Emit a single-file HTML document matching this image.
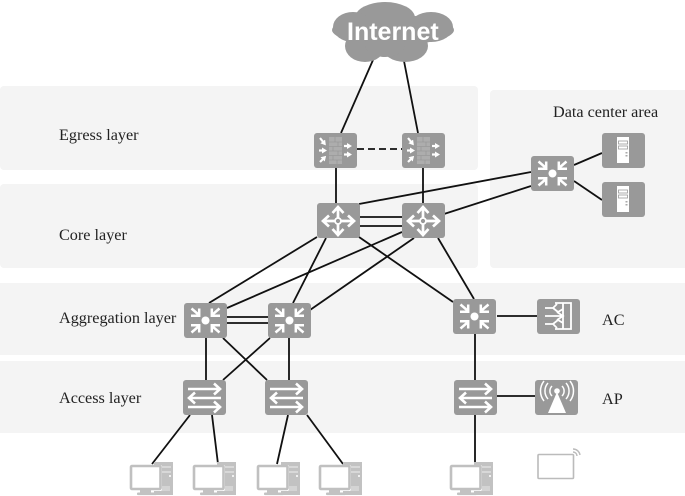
<!DOCTYPE html>
<html>
<head>
<meta charset="utf-8">
<style>
html,body{margin:0;padding:0;background:#fff}
svg{display:block}
text{font-family:"Liberation Serif",serif;font-size:16.2px;fill:#222}
</style>
</head>
<body>
<svg width="685" height="496" viewBox="0 0 685 496" xmlns="http://www.w3.org/2000/svg">
<defs>
<marker id="ah" markerWidth="5" markerHeight="6" refX="2" refY="3" orient="auto" markerUnits="userSpaceOnUse"><path d="M0 0L5 3L0 6Z" fill="#fff"/></marker>
<g id="box"><rect width="43" height="35" rx="3" fill="#999"/></g>
<g id="agg">
<use href="#box"/>
<circle cx="21.5" cy="17.5" r="4" fill="#fff"/>
<g stroke="#fff" stroke-width="2.5" fill="none">
<path d="M7.5 5.5L14.5 11.5M7 12.8H15.2V5.5"/>
<path d="M35.5 5.5L28.5 11.5M36 12.8H27.8V5.5"/>
<path d="M7.5 29.5L14.5 23.5M7 22.2H15.2V29.5"/>
<path d="M35.5 29.5L28.5 23.5M36 22.2H27.8V29.5"/>
</g>
</g>
<g id="core">
<use href="#box"/>
<g stroke="#fff" stroke-width="2.7" fill="none">
<path d="M21 18V5M15.5 10L21 4L26.5 10"/>
<path d="M21 18V31M15.5 26L21 32L26.5 26"/>
<path d="M21 18H7M12 12.5L6 18L12 23.5"/>
<path d="M21 18H36M31 12.5L37 18L31 23.5"/>
</g>
<circle cx="21" cy="18" r="3" fill="#999" stroke="#fff" stroke-width="1.8"/>
</g>
<g id="sw">
<use href="#box"/>
<g stroke="#fff" stroke-width="2.6" fill="none">
<path d="M5 9H37M31 3.5L37 9L31 14.5"/>
<path d="M38 18H7M12 12.5L6 18L12 23.5"/>
<path d="M5 27H37M31 21.5L37 27L31 32.5"/>
</g>
</g>
<g id="fw">
<use href="#box"/>
<rect x="15" y="4" width="13" height="27" fill="#adadad"/>
<g stroke="#999" stroke-width="0.8"><path d="M15 9H28M15 13.5H28M15 18H28M15 22.5H28M15 27H28M21 4V9M24 9V13.5M19 13.5V18M24 18V22.5M19 22.5V27M23 27V31"/></g>
<g stroke="#fff" stroke-width="2.2" fill="none">
<path d="M6 5L10 10" marker-end="url(#ah)"/>
<path d="M5 17.5H10" marker-end="url(#ah)"/>
<path d="M6 29L10 25" marker-end="url(#ah)"/>
<path d="M30 13H35" marker-end="url(#ah)"/>
<path d="M30 21.5H35" marker-end="url(#ah)"/>
</g>
</g>
<g id="srv">
<use href="#box"/>
<rect x="15" y="4" width="12" height="26" fill="#fff"/>
<rect x="16.5" y="8" width="9" height="3" fill="#fff" stroke="#999" stroke-width=".8"/>
<rect x="16.5" y="13" width="9" height="3" fill="#fff" stroke="#999" stroke-width=".8"/>
<rect x="23.5" y="19" width="2" height="1.5" fill="#aaa"/>
<rect x="23.5" y="22" width="2" height="1.5" fill="#aaa"/>
</g>
<g id="pc">
<rect x="24" y="0" width="19" height="33" fill="#c2c2c2"/>
<path d="M27 5H41M27 10H41" stroke="#eee" stroke-width="1"/>
<circle cx="40" cy="14" r="1" fill="#fff"/>
<path d="M33 29V24M35 29V24M37 29V24M39 29V24" stroke="#eee" stroke-width=".8"/>
<rect x="-1" y="3" width="33" height="26" rx="1.5" fill="#fff"/>
<rect x="1" y="4" width="29.5" height="23" rx="1" fill="#fff" stroke="#c0c0c0" stroke-width="2.6"/>
<rect x="10" y="28" width="11" height="3" fill="#c2c2c2"/>
<rect x="7" y="30.5" width="20" height="2.6" rx="1" fill="#c2c2c2"/>
</g>
</defs>

<!-- panels -->
<g fill="#f4f4f4">
<rect x="0" y="86" width="478" height="84" rx="4"/>
<rect x="0" y="184" width="478" height="84" rx="4"/>
<rect x="490" y="90" width="200" height="178" rx="4"/>
<rect x="-5" y="283" width="695" height="72" rx="4"/>
<rect x="-5" y="361" width="695" height="72" rx="4"/>
</g>

<!-- connectors -->
<g stroke="#111" stroke-width="1.8" fill="none">
<path d="M373 60L341 133M404 61L418 133"/>
<path d="M357 149H402" stroke-dasharray="7 4"/>
<path d="M336 168V203M423 168V203"/>
<path d="M359 217H402M359 226H402"/>
<path d="M359 204L531 172M444 214L531 186"/>
<path d="M574 165L602 153M574 181L602 200"/>
<path d="M317 237L209 303M326 238L293 303M402 232L227 308M414 238L310 310"/>
<path d="M359 237L453 302M438 238L474 299"/>
<path d="M227 317H268M227 323H268"/>
<path d="M206 338V380M289 338V380"/>
<path d="M223 338L267 380M270 338L223 380"/>
<path d="M475 334V380M497 316H537M497 396H535M475 415V462"/>
<path d="M190 415L152 464M212 415L218 464M288 415L277 464M307 415L343 464"/>
</g>

<!-- cloud -->
<g fill="#999">
<ellipse cx="393" cy="30" rx="61" ry="15"/>
<ellipse cx="385" cy="18" rx="30" ry="16"/>
<ellipse cx="353" cy="27" rx="20" ry="15"/>
<ellipse cx="431" cy="27" rx="22" ry="15"/>
<ellipse cx="365" cy="46" rx="20" ry="16"/>
<ellipse cx="405" cy="46" rx="23" ry="16"/>
<ellipse cx="385" cy="44" rx="20" ry="13"/>
</g>
<text x="347" y="40" style="font-family:'Liberation Sans',sans-serif;font-weight:bold;font-size:25px;fill:#fff">Internet</text>

<!-- devices -->
<use href="#fw" x="314" y="133"/>
<use href="#fw" x="402" y="133"/>
<use href="#core" x="317" y="203"/>
<use href="#core" x="402" y="203"/>
<use href="#agg" x="531" y="156"/>
<use href="#srv" x="602" y="133"/>
<use href="#srv" x="602" y="182"/>
<use href="#agg" x="184" y="303"/>
<use href="#agg" x="268" y="303"/>
<use href="#agg" x="453" y="299"/>
<use href="#sw" x="183" y="380"/>
<use href="#sw" x="265" y="380"/>
<use href="#sw" x="454" y="380"/>

<!-- AC -->
<use href="#box" x="537" y="299"/>
<g stroke="#fff" stroke-width="1.8" fill="none">
<path d="M555 303H571V329H555M563 303V329"/>
<path d="M545 308H553L557 304M553 308L558 312L563 309"/>
<path d="M545 316H563M557 312L563 316L557 320"/>
<path d="M545 324H553L558 320L563 323M553 324L557 328"/>
</g>

<!-- AP -->
<use href="#box" x="535" y="380"/>
<path d="M557 392L566 413H548Z" fill="#fff"/>
<circle cx="557" cy="391" r="2.8" fill="#fff"/>
<g stroke="#fff" stroke-width="1.5" fill="none">
<path d="M552 386a7 7 0 0 0 0 10M562 386a7 7 0 0 1 0 10"/>
<path d="M548 383a12 12 0 0 0 0 16M566 383a12 12 0 0 1 0 16"/>
<path d="M544 381a16 16 0 0 0 0 20M570 381a16 16 0 0 1 0 20"/>
</g>

<!-- PCs -->
<use href="#pc" x="130" y="462"/>
<use href="#pc" x="193" y="462"/>
<use href="#pc" x="257" y="462"/>
<use href="#pc" x="319" y="462"/>
<use href="#pc" x="450" y="462"/>

<!-- tablet -->
<rect x="538" y="454.5" width="35.5" height="24" rx="1" fill="#fff" stroke="#bbb" stroke-width="1.6"/>
<g stroke="#bbb" stroke-width="1.4" fill="none">
<path d="M573 452a4 4 0 0 1 4 4"/>
<path d="M573 449a7 7 0 0 1 7 6"/>
</g>

<!-- labels -->
<text x="59" y="140">Egress layer</text>
<text x="59" y="240">Core layer</text>
<text x="59" y="323">Aggregation layer</text>
<text x="59" y="403">Access layer</text>
<text x="553" y="117">Data center area</text>
<text x="602" y="325">AC</text>
<text x="602" y="404">AP</text>
</svg>
</body>
</html>
